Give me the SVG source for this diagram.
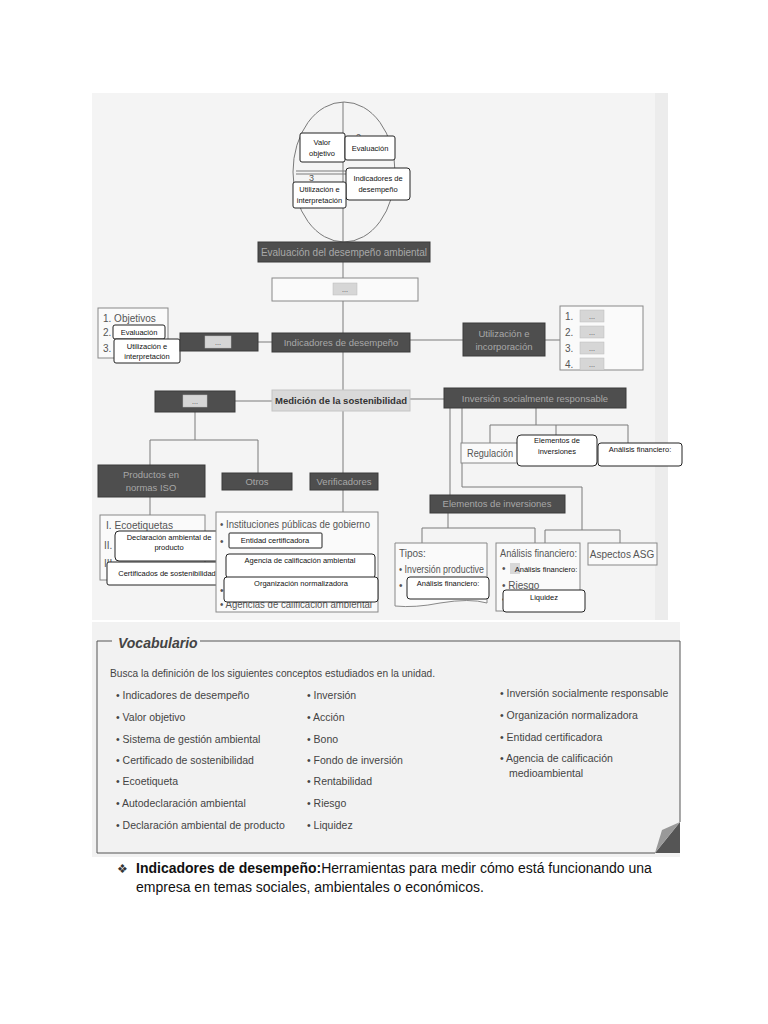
<svg xmlns="http://www.w3.org/2000/svg" width="768" height="1024" viewBox="0 0 768 1024">
<style>
.ln{stroke:#7a7a7a;stroke-width:1;fill:none}
.dk{fill:#4e4e4e;stroke:#3a3a3a;stroke-width:1}
.dt{font-family:"Liberation Sans",Arial,sans-serif;font-size:9.5px;fill:#a8a8a8;text-anchor:middle}
.wb{fill:#fff;stroke:#222;stroke-width:1}
.pb{fill:#fafafa;stroke:#888;stroke-width:1}
.wt{font-family:"Liberation Sans",Arial,sans-serif;font-size:7.5px;fill:#111;text-anchor:middle}
.st{font-family:"Liberation Sans",Arial,sans-serif;font-size:10px;fill:#555}
.gx{fill:#d6d6d6;stroke:#bbb;stroke-width:0.5}
.gt{font-family:"Liberation Sans",Arial,sans-serif;font-size:7px;fill:#444;text-anchor:middle}
.vt{font-family:"Liberation Sans",Arial,sans-serif;font-size:10.5px;fill:#444}
.bt{font-family:"Liberation Sans",Arial,sans-serif;font-size:14px;fill:#111}
</style>
<rect width="768" height="1024" fill="#fff"/>
<rect x="92" y="93" width="576" height="527" fill="#f4f4f4"/>
<rect x="655" y="93" width="13" height="527" fill="#ececec"/>
<rect x="92" y="622" width="588" height="235" fill="#f2f2f2"/>

<g id="connectors">
<ellipse class="ln" cx="344" cy="172" rx="51" ry="70"/>
<line class="ln" x1="343" y1="102" x2="343" y2="512"/>
<line class="ln" x1="296" y1="171" x2="390" y2="171"/>
<line class="ln" x1="296" y1="174" x2="390" y2="174"/>
<line class="ln" x1="258" y1="342" x2="272" y2="342"/>
<line class="ln" x1="410" y1="340" x2="463" y2="340"/>
<line class="ln" x1="545" y1="340" x2="560" y2="340"/>
<line class="ln" x1="235" y1="401" x2="272" y2="401"/>
<line class="ln" x1="410" y1="399" x2="444" y2="399"/>
<polyline class="ln" points="195,412 195,440"/>
<polyline class="ln" points="150,466 150,440 258,440 258,473"/>
<line class="ln" x1="150" y1="497" x2="150" y2="515"/>
<line class="ln" x1="536" y1="408" x2="536" y2="425"/>
<polyline class="ln" points="490,444 490,425 628,425 628,444"/>
<line class="ln" x1="556" y1="425" x2="556" y2="436"/>
<line class="ln" x1="450" y1="408" x2="450" y2="495"/>
<polyline class="ln" points="462,408 462,487 582,487 582,530"/>
<line class="ln" x1="448" y1="513" x2="448" y2="528"/>
<polyline class="ln" points="422,543 422,528 535,528 535,543"/>
<polyline class="ln" points="545,543 545,530 620,530 620,543"/>
</g>

<g id="circle-items">
<text x="356" y="140" class="st" style="font-size:9px">2</text>
<text x="309" y="181" class="st" style="font-size:9px">3</text>
<g id="n-valor"><rect class="wb" x="300" y="133" width="45" height="29" rx="2"/><text class="wt" x="322" y="145">Valor</text><text class="wt" x="322" y="156">objetivo</text></g>
<g id="n-evaluacion"><rect class="wb" x="345" y="136" width="50" height="24" rx="2"/><text class="wt" x="370" y="151">Evaluación</text></g>
<g id="n-indicadores"><rect class="wb" x="346" y="168" width="64" height="32" rx="3"/><text class="wt" x="378" y="181">Indicadores de</text><text class="wt" x="378" y="192">desempeño</text></g>
<g id="n-utilizacion"><rect class="wb" x="293" y="182" width="53" height="26" rx="2"/><text class="wt" x="319.5" y="192">Utilización e</text><text class="wt" x="319.5" y="203">interpretación</text></g>
</g>

<g id="n-eval-desempeno"><rect class="dk" x="258" y="242" width="172" height="20"/><text class="dt" x="344" y="256" style="font-size:10px">Evaluación del desempeño ambiental</text></g>
<g id="n-blank1"><rect class="pb" x="272" y="278" width="146" height="23"/><rect class="gx" x="333" y="283" width="24" height="12"/><text class="gt" x="345" y="292">...</text></g>

<g id="n-list-left">
<rect class="pb" x="98" y="308" width="70" height="50"/>
<text class="st" x="103" y="322">1. Objetivos</text>
<text class="st" x="103" y="336">2.</text>
<text class="st" x="103" y="352">3.</text>
<rect class="wb" x="113" y="325" width="52" height="14" rx="2"/><text class="wt" x="139" y="335">Evaluación</text>
<rect class="wb" x="114" y="339" width="66" height="24" rx="2"/><text class="wt" x="147" y="349">Utilización e</text><text class="wt" x="147" y="359">interpretación</text>
</g>
<g id="n-dots-left"><rect class="dk" x="180" y="333" width="78" height="18"/><rect class="gx" x="205" y="336" width="26" height="12"/><text class="gt" x="218" y="345">...</text></g>
<g id="n-indicadores-dk"><rect class="dk" x="272" y="333" width="138" height="19"/><text class="dt" x="341" y="346">Indicadores de desempeño</text></g>
<g id="n-utilizacion-inc"><rect class="dk" x="463" y="323" width="82" height="33"/><text class="dt" x="504" y="337">Utilización e</text><text class="dt" x="504" y="350">incorporación</text></g>
<g id="n-list-right">
<rect class="pb" x="560" y="306" width="83" height="64"/>
<text class="st" x="565" y="320">1.</text><rect class="gx" x="580" y="310" width="24" height="12"/><text class="gt" x="592" y="319">...</text>
<text class="st" x="565" y="336">2.</text><rect class="gx" x="580" y="326" width="24" height="12"/><text class="gt" x="592" y="335">...</text>
<text class="st" x="565" y="352">3.</text><rect class="gx" x="580" y="342" width="24" height="12"/><text class="gt" x="592" y="351">...</text>
<text class="st" x="565" y="368">4.</text><rect class="gx" x="580" y="358" width="24" height="12"/><text class="gt" x="592" y="367">...</text>
</g>

<g id="n-medicion"><rect x="272" y="390" width="138" height="21" fill="#d9d9d9" stroke="#c4c4c4"/><text x="341" y="404" style="font-family:'Liberation Sans',Arial,sans-serif;font-size:9.5px;font-weight:bold;fill:#333;text-anchor:middle">Medición de la sostenibilidad</text></g>
<g id="n-dots-med"><rect class="dk" x="155" y="391" width="80" height="21"/><rect class="gx" x="183" y="395" width="24" height="12"/><text class="gt" x="195" y="404">...</text></g>
<g id="n-inversion"><rect class="dk" x="444" y="388" width="182" height="20"/><text class="dt" x="535" y="402">Inversión socialmente responsable</text></g>

<g id="n-productos"><rect class="dk" x="98" y="465" width="107" height="32"/><text class="dt" x="151" y="478">Productos en</text><text class="dt" x="151" y="491">normas ISO</text></g>
<g id="n-otros"><rect class="dk" x="222" y="473" width="70" height="17"/><text class="dt" x="257" y="485">Otros</text></g>
<g id="n-verificadores"><rect class="dk" x="310" y="473" width="68" height="17"/><text class="dt" x="344" y="485">Verificadores</text></g>

<g id="n-list-iso">
<rect class="pb" x="100" y="515" width="105" height="65"/>
<text class="st" x="106" y="529" style="font-size:10.5px" textLength="67" lengthAdjust="spacingAndGlyphs">I.  Ecoetiquetas</text>
<text class="st" x="104" y="549">II.</text>
<text class="st" x="104" y="567">III.</text>
<rect class="wb" x="115" y="531" width="109" height="30" rx="4"/><text class="wt" x="169" y="540">Declaración ambiental de</text><text class="wt" x="169" y="550">producto</text>
<rect class="wb" x="107" y="562" width="120" height="23" rx="2"/><text class="wt" x="167" y="576">Certificados de sostenibilidad</text>
</g>
<g id="n-list-verif">
<rect class="pb" x="216" y="512" width="162" height="100"/>
<text class="st" x="220" y="528" style="font-size:11px" textLength="150" lengthAdjust="spacingAndGlyphs">• Instituciones públicas de gobierno</text>
<text class="st" x="220" y="545">•</text>
<text class="st" x="220" y="594">•</text>
<text class="st" x="220" y="608" style="font-size:11px" textLength="152" lengthAdjust="spacingAndGlyphs">• Agencias de calificación ambiental</text>
<rect class="wb" x="229" y="533" width="93" height="15" rx="1"/><text class="wt" x="275" y="543">Entidad certificadora</text>
<rect class="wb" x="226" y="554" width="149" height="24" rx="3"/><text class="wt" x="300" y="563">Agencia de calificación ambiental</text>
<rect class="wb" x="224" y="577" width="154" height="25" rx="3"/><text class="wt" x="301" y="586">Organización normalizadora</text>
</g>

<g id="n-regulacion"><rect class="pb" x="461" y="443" width="60" height="20"/><text class="st" x="490" y="457" style="text-anchor:middle" textLength="46" lengthAdjust="spacingAndGlyphs">Regulación</text></g>
<g id="n-elementos-w"><rect class="wb" x="517" y="435" width="80" height="31" rx="4"/><text class="wt" x="557" y="443">Elementos de</text><text class="wt" x="557" y="454">inversiones</text></g>
<g id="n-analisis-w"><rect class="wb" x="598" y="443" width="84" height="23" rx="3"/><text class="wt" x="640" y="452">Análisis financiero:</text></g>
<g id="n-elementos-dk"><rect class="dk" x="430" y="495" width="135" height="18"/><text class="dt" x="497" y="507">Elementos de inversiones</text></g>

<g id="n-tipos">
<path class="pb" d="M395,543 H487 V603 Q470,598 440,603 Q415,608 395,606 Z"/>
<text class="st" x="399" y="557">Tipos:</text>
<text class="st" x="399" y="573" textLength="85" lengthAdjust="spacingAndGlyphs">• Inversión productive</text>
<text class="st" x="399" y="589">•</text>
<rect class="wb" x="407" y="577" width="82" height="22" rx="3"/><text class="wt" x="448" y="586">Análisis financiero:</text>
</g>
<g id="n-analisis-col">
<rect class="pb" x="496" y="543" width="84" height="68"/>
<text class="st" x="500" y="557" textLength="77" lengthAdjust="spacingAndGlyphs">Análisis financiero:</text>
<text class="st" x="502" y="572">•</text>
<rect x="510" y="563" width="10" height="11" fill="#d8d8d8"/>
<text class="wt" x="546" y="572">Análisis financiero:</text>
<text class="st" x="502" y="589">• Riesgo</text>
<text class="st" x="502" y="603">•</text>
<rect class="wb" x="503" y="590" width="82" height="22" rx="3"/><text class="wt" x="544" y="600">Liquidez</text>
</g>
<g id="n-asg"><rect class="pb" x="588" y="543" width="69" height="22"/><text class="st" x="622" y="558" style="text-anchor:middle">Aspectos ASG</text></g>

<g id="vocabulario">
<polyline class="ln" points="200,641 680,641 680,822" style="stroke:#555"/>
<polyline class="ln" points="112,641 97,641 97,853 655,853" style="stroke:#555"/>
<polygon points="655,853 680,822 680,853" fill="#555"/>
<polygon points="655,853 680,822 662,830" fill="#999"/>
<text x="118" y="648" style="font-family:'Liberation Sans',Arial,sans-serif;font-size:14px;font-weight:bold;font-style:italic;fill:#444">Vocabulario</text>
<text class="vt" x="110" y="677" textLength="325" lengthAdjust="spacingAndGlyphs">Busca la definición de los siguientes conceptos estudiados en la unidad.</text>
<text class="vt" x="116" y="699">•  Indicadores de desempeño</text>
<text class="vt" x="116" y="721">•  Valor objetivo</text>
<text class="vt" x="116" y="743">•  Sistema de gestión ambiental</text>
<text class="vt" x="116" y="764">•  Certificado de sostenibilidad</text>
<text class="vt" x="116" y="785">•  Ecoetiqueta</text>
<text class="vt" x="116" y="807">•  Autodeclaración ambiental</text>
<text class="vt" x="116" y="829">•  Declaración ambiental de producto</text>
<text class="vt" x="307" y="699">•  Inversión</text>
<text class="vt" x="307" y="721">•  Acción</text>
<text class="vt" x="307" y="743">•  Bono</text>
<text class="vt" x="307" y="764">•  Fondo de inversión</text>
<text class="vt" x="307" y="785">•  Rentabilidad</text>
<text class="vt" x="307" y="807">•  Riesgo</text>
<text class="vt" x="307" y="829">•  Liquidez</text>
<text class="vt" x="500" y="697">•  Inversión socialmente responsable</text>
<text class="vt" x="500" y="719">•  Organización normalizadora</text>
<text class="vt" x="500" y="741">•  Entidad certificadora</text>
<text class="vt" x="500" y="762">•  Agencia de calificación</text>
<text class="vt" x="509" y="777">medioambiental</text>
</g>

<g id="definicion">
<text class="bt" x="117" y="873" style="font-size:12px;fill:#333">❖</text>
<text class="bt" x="136" y="873"><tspan font-weight="bold">Indicadores de desempeño:</tspan>Herramientas para medir cómo está funcionando una</text>
<text class="bt" x="136" y="892">empresa en temas sociales, ambientales o económicos.</text>
</g>
</svg>
